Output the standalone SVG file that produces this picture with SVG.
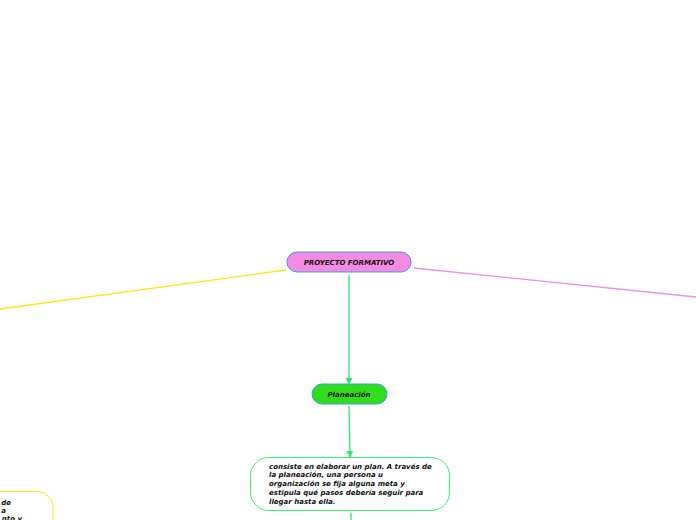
<svg xmlns="http://www.w3.org/2000/svg" width="696" height="520" viewBox="0 0 696 520">
<style>
.t{font-family:"DejaVu Sans","Liberation Sans",sans-serif;font-weight:bold;font-style:italic;font-size:7px;fill:#111}
.c{text-anchor:middle}
.node{stroke:#3a9ee4;stroke-width:1}
</style>
<defs>
<marker id="ag" viewBox="0 0 10 10" refX="9" refY="5" markerWidth="7" markerHeight="7" markerUnits="userSpaceOnUse" orient="auto"><path d="M0,0L10,5L0,10z" fill="#2ee66b"/></marker>
</defs>
<rect width="696" height="520" fill="#fff"/>
<g id="connectors" fill="none" stroke-width="1.3">
<line x1="286" y1="270" x2="0" y2="309" stroke="#ffe51a"/>
<line x1="414" y1="268" x2="696" y2="297" stroke="#f48be4"/>
<line x1="349" y1="275" x2="349" y2="384" stroke="#2ee66b" marker-end="url(#ag)"/>
<line x1="349" y1="406" x2="350" y2="457" stroke="#2ee66b" marker-end="url(#ag)"/>
<line x1="351" y1="513" x2="351" y2="520" stroke="#2ee66b"/>
</g>
<g id="root">
<rect class="node" x="287" y="252" width="124" height="20" rx="10" fill="#f38be2"/>
<text class="t c" x="349" y="264.5">PROYECTO FORMATIVO</text>
</g>
<g id="planeacion">
<rect class="node" x="312" y="384" width="75" height="20" rx="10" fill="#30dd1a"/>
<text class="t c" x="349" y="396.5">Planeación</text>
</g>
<g id="definicion">
<rect x="250.5" y="457.5" width="199" height="53" rx="18" fill="#fff" stroke="#3cf06a" stroke-width="1"/>
<text class="t" x="269" y="468.5">consiste en elaborar un plan. A través de</text>
<text class="t" x="269" y="477.3">la planeación, una persona u</text>
<text class="t" x="269" y="486.1">organización se fija alguna meta y</text>
<text class="t" x="269" y="494.9">estipula qué pasos debería seguir para</text>
<text class="t" x="269" y="503.7">llegar hasta ella.</text>
</g>
<g id="izquierda">
<rect x="-60" y="491.5" width="113" height="60" rx="16" fill="#fff" stroke="#ffe51a" stroke-width="1"/>
<text class="t" x="11" y="505" text-anchor="end">de</text>
<text class="t" x="6" y="513" text-anchor="end">a</text>
<text class="t" x="22" y="520.5" text-anchor="end">nto y</text>
</g>
</svg>
